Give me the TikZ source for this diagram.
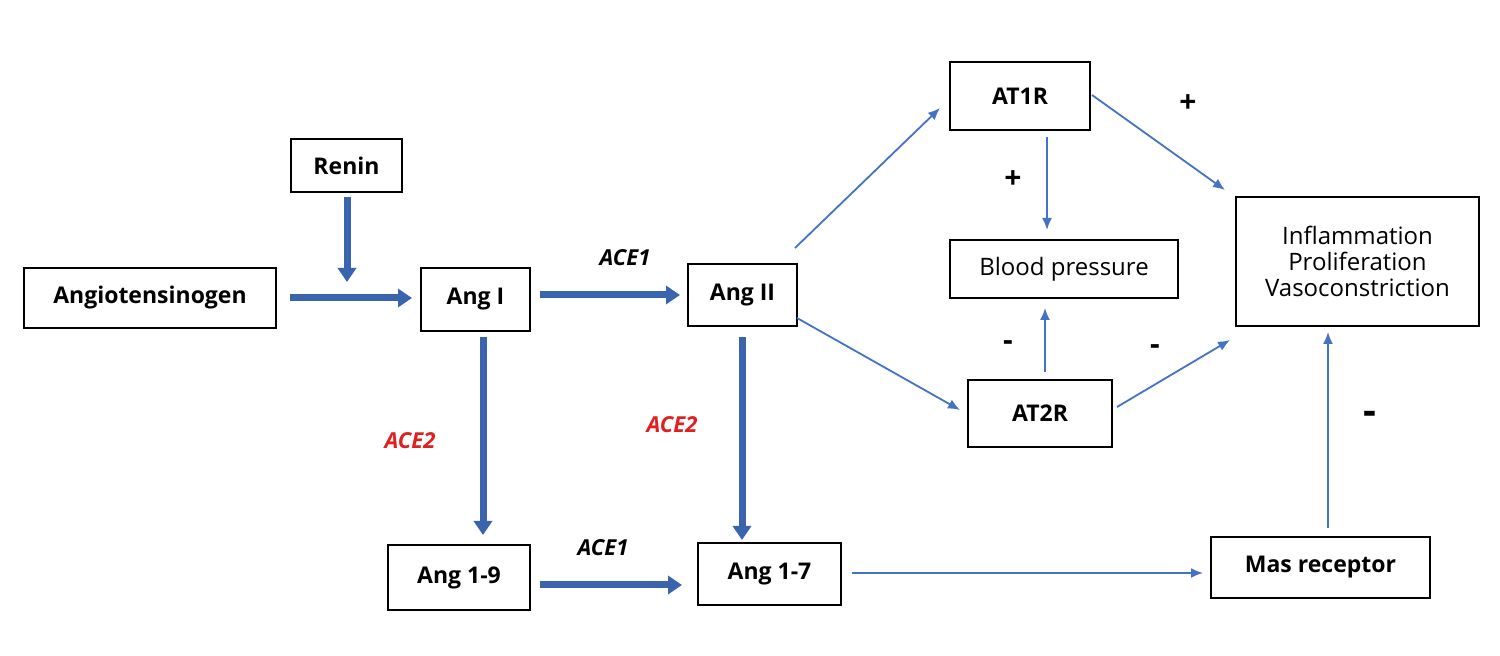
\documentclass[tikz,border=0pt]{standalone}
\usepackage{fontspec}
\setmainfont{Open Sans}
\usetikzlibrary{arrows.meta}
\definecolor{thk}{HTML}{3B64AE}
\definecolor{thn}{HTML}{4472C4}
\definecolor{ared}{HTML}{E02020}
\begin{document}
\begin{tikzpicture}[x=0.5pt,y=-0.5pt,
 bx/.style={draw,line width=0.8pt,font=\bfseries\fontsize{11.5}{13}\selectfont,inner sep=0pt},
 bxn/.style={draw,line width=0.8pt,font=\fontsize{12}{14}\selectfont,inner sep=0pt},
 thick arr/.style={draw=thk,line width=3.5pt,-{Triangle[length=7pt,width=9pt]}},
 thin arr/.style={draw=thn,line width=0.9pt,-{Latex[length=6pt,width=5pt]}},
 lab/.style={font=\bfseries\itshape\fontsize{11}{12}\selectfont},
 sgn/.style={font=\bfseries\fontsize{15}{16}\selectfont}]
\useasboundingbox (0,0) rectangle (1500,656);
\node[bx,minimum width=55.5pt,minimum height=26.5pt] (ren) at (346.5,165.5) {Renin};
\node[bx,minimum width=126pt,minimum height=30pt] (agt) at (150,298) {Angiotensinogen};
\node[bx,minimum width=54.5pt,minimum height=31.5pt] (a1) at (475.5,299.5) {Ang I};
\node[bx,minimum width=54.5pt,minimum height=31pt] (a2) at (742.5,295) {Ang II};
\node[bx,minimum width=70pt,minimum height=34pt] (at1) at (1020,96) {AT1R};
\node[bxn,minimum width=114pt,minimum height=29pt] (bp) at (1064,269) {Blood pressure};
\node[bx,minimum width=72pt,minimum height=33.5pt] (at2) at (1040,413.5) {AT2R};
\node[bxn,minimum width=121.5pt,minimum height=64.5pt,align=center] (inf) at (1357.5,261.5) {Inflammation\\[-1pt]Proliferation\\[-1pt]Vasoconstriction};
\node[bx,minimum width=71pt,minimum height=32.5pt] (a19) at (459,577.5) {Ang 1-9};
\node[bx,minimum width=71.5pt,minimum height=31pt] (a17) at (769.5,574) {Ang 1-7};
\node[bx,minimum width=109.5pt,minimum height=30.5pt] (mas) at (1320.5,567.5) {Mas receptor};
\coordinate (r1) at (347,197); \coordinate (r2) at (347,282);
\coordinate (g1) at (290,298); \coordinate (g2) at (412,298);
\coordinate (i1) at (540,295); \coordinate (i2) at (680,295);
\coordinate (d1) at (483,337); \coordinate (d2) at (483,535);
\coordinate (e1) at (742,337); \coordinate (e2) at (742,540);
\coordinate (h1) at (540,585); \coordinate (h2) at (682,585);
\coordinate (t1) at (795,248); \coordinate (t2) at (940,108);
\coordinate (u1) at (797,318); \coordinate (u2) at (960,410);
\coordinate (v1) at (1047,137); \coordinate (v2) at (1047,230);
\coordinate (w1) at (1045,372); \coordinate (w2) at (1045,308);
\coordinate (p1) at (1092,95); \coordinate (p2) at (1225,190);
\coordinate (q1) at (1117,407); \coordinate (q2) at (1230,340);
\coordinate (m1) at (852,573); \coordinate (m2) at (1203,573);
\coordinate (n1) at (1328,528); \coordinate (n2) at (1328,332);
\draw[thick arr] (r1) -- (r2);
\draw[thick arr] (g1) -- (g2);
\draw[thick arr] (i1) -- (i2);
\draw[thick arr] (d1) -- (d2);
\draw[thick arr] (e1) -- (e2);
\draw[thick arr] (h1) -- (h2);
\draw[thin arr] (t1) -- (t2);
\draw[thin arr] (u1) -- (u2);
\draw[thin arr] (v1) -- (v2);
\draw[thin arr] (w1) -- (w2);
\draw[thin arr] (p1) -- (p2);
\draw[thin arr] (q1) -- (q2);
\draw[thin arr] (m1) -- (m2);
\draw[thin arr] (n1) -- (n2);
\node[lab] at (625,258) {ACE1};
\node[lab] at (603,548) {ACE1};
\node[lab,text=ared] at (410,441) {ACE2};
\node[lab,text=ared] at (672,425) {ACE2};
\node[sgn] at (1188,104) {+};
\node[sgn] at (1013,180) {+};
\node[sgn] at (1008,346) {-};
\node[sgn] at (1155,350) {-};
\node[sgn,font=\bfseries\fontsize{20}{20}\selectfont] at (1370,418) {-};
\end{tikzpicture}
\end{document}
